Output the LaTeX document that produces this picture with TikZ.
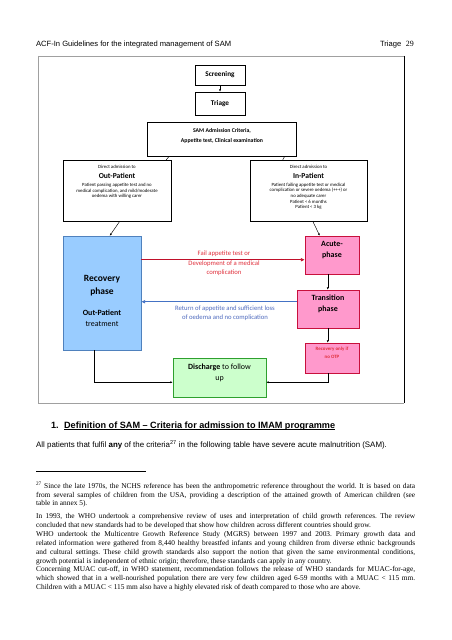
\documentclass[tikz,border=0pt]{standalone}
\usepackage{fontspec}
\setmainfont{Liberation Sans}
\newfontfamily\tnr{Liberation Serif}
\newfontfamily\calfnt{Carlito}
\usetikzlibrary{arrows.meta,calc}
\def\PX{1.3164pt}
\definecolor{pinkfill}{HTML}{FF99CC}
\definecolor{pinkdraw}{HTML}{C8103C}
\definecolor{bluefill}{HTML}{99CCFF}
\definecolor{bluedraw}{HTML}{4F81BD}
\definecolor{greenfill}{HTML}{CCFFCC}
\definecolor{greendraw}{HTML}{2EA02E}
\definecolor{redarrow}{HTML}{C0102A}
\definecolor{redtext}{HTML}{E0303C}
\definecolor{bluearrow}{HTML}{4472C4}
\definecolor{bluetext}{HTML}{4F6BBF}
\definecolor{framegray}{HTML}{A0A0A0}
\begin{document}
\begin{tikzpicture}[x=1.3164pt,y=-1.3164pt,
  bx/.style={draw=black, line width=0.6pt, inner sep=0pt},
  pinkbox/.style={draw=pinkdraw, fill=pinkfill, line width=0.7pt, inner sep=0pt},
  arr/.style={-{Latex[length=3pt,width=2.6pt]}, line width=0.6pt},
  bigarr/.style={-{Latex[length=5pt,width=5pt]}, line width=1.6pt},
  txt/.style={inner sep=0pt, align=center}
]
\useasboundingbox (0,0) rectangle (452,640);
\fill[white] (0,0) rectangle (452,640);

% page header
\node[anchor=base west, inner sep=0pt, font=\fontsize{10}{12}\selectfont] (hdr) at (36,46.5) {ACF-In Guidelines for the integrated management of SAM};
\node[anchor=base east, inner sep=0pt, font=\fontsize{10}{12}\selectfont] (pg) at (414,46.5) {Triage\hspace{6pt}{\tnr\fontsize{10.5}{12}\selectfont 29}};

% frame
\draw[framegray, line width=0.6pt] (38,56) -- (38,403) -- (404,403);
\draw[framegray, line width=0.6pt] (38,56) -- (404,56);
\draw[black, line width=0.6pt] (404,56) -- (404,403);

% boxes
\node[bx, minimum width=50*\PX, minimum height=20*\PX] (scr) at (220,75) {};
\node[txt, font=\calfnt\bfseries\fontsize{9.5}{11}\selectfont] (scrt) at (220,75) {Screening};
\node[bx, minimum width=50*\PX, minimum height=23*\PX] (tri) at (220,103.5) {};
\node[txt, font=\calfnt\bfseries\fontsize{9.5}{11}\selectfont] (trit) at (220,103.5) {Triage};
\node[bx, minimum width=149*\PX, minimum height=34*\PX] (sam) at (222,139) {};
\node[txt, font=\calfnt\bfseries\fontsize{7.6}{13}\selectfont] (samt) at (222,135.5) {SAM Admission Criteria,\\Appetite test, Clinical examination};

\node[bx, minimum width=108*\PX, minimum height=61*\PX] (out) at (117,190.5) {};
\node[txt, anchor=base, font=\calfnt\fontsize{6.3}{7}\selectfont] (outa) at (117,168.5) {Direct admission to};
\node[txt, anchor=base, font=\calfnt\bfseries\fontsize{10}{11}\selectfont] (outb) at (117,178.8) {Out-Patient};
\node[txt, font=\calfnt\fontsize{6.3}{7.4}\selectfont] (outc) at (117,190.8) {Patient passing appetite test and no\\medical complication, and mild/moderate\\oedema with willing carer};

\node[bx, minimum width=117*\PX, minimum height=61*\PX] (inp) at (308.5,190.5) {};
\node[txt, anchor=base, font=\calfnt\fontsize{6.3}{7}\selectfont] (ina) at (308.5,168.5) {Direct admission to};
\node[txt, anchor=base, font=\calfnt\bfseries\fontsize{10}{11}\selectfont] (inb) at (308.5,178.8) {In-Patient};
\node[txt, font=\calfnt\fontsize{6.3}{7.4}\selectfont] (inc) at (308.5,196.3) {Patient failing appetite test or medical\\complication or severe oedema (+++) or\\no adequate carer\\Patient < 6 months\\Patient < 3 kg};

\node[draw=bluedraw, fill=bluefill, line width=0.7pt, inner sep=0pt, minimum width=78*\PX, minimum height=114*\PX] (rec) at (102,293) {};
\node[txt, font=\calfnt\bfseries\fontsize{12.5}{17}\selectfont] (reca) at (102,286) {Recovery\\phase};
\node[txt, font=\calfnt\fontsize{10.5}{14.5}\selectfont] (recb) at (102,318.5) {\textbf{Out-Patient}\\treatment};

\node[pinkbox, minimum width=54*\PX, minimum height=38*\PX] (acu) at (332,255) {};
\node[txt, font=\calfnt\bfseries\fontsize{10.5}{14.5}\selectfont] (acut) at (332,250.5) {Acute-\\phase};
\node[pinkbox, minimum width=62*\PX, minimum height=38*\PX] (tra) at (328,309) {};
\node[txt, font=\calfnt\bfseries\fontsize{10.5}{14.5}\selectfont] (trat) at (328,304) {Transition\\phase};
\node[pinkbox, minimum width=54*\PX, minimum height=30*\PX] (rco) at (332,358) {};
\node[txt, font=\calfnt\bfseries\fontsize{6.5}{10.5}\selectfont, text=redtext] (rcot) at (332,353) {Recovery only if\\no OTP};

\node[draw=greendraw, fill=greenfill, line width=0.7pt, inner sep=0pt, minimum width=93*\PX, minimum height=39*\PX] (dis) at (219.5,377.5) {};
\node[txt, font=\calfnt\fontsize{10.5}{14.5}\selectfont] (dist) at (219.5,372.5) {\textbf{Discharge} to follow\\up};

% connectors
\draw[arr] (scr.south) -- (tri.north);
\draw[line width=0.6pt] ($(sam.south west)+(22,0)$) -- ($(out.north east)+(-5,0)$);
\draw[line width=0.6pt] ($(sam.south east)+(-12,0)$) -- ($(inp.north west)+(33,0)$);
\draw[arr] ($(out.south west)+(57,0)$) -- ($(rec.north west)+(47,0)$);
\draw[arr] ($(inp.south west)+(63,0)$) -- ($(acu.north west)+(15,0)$);
\draw[arr] ($(acu.south west)+(23,0)$) -- ($(tra.north west)+(31,0)$);
\draw[arr] ($(tra.south west)+(31,0)$) -- ($(rco.north west)+(23,0)$);

\draw[bigarr, redarrow] ($(rec.north east)+(0,24)$) -- ($(acu.north west)+(0,24)$);
\node[txt, anchor=base, font=\calfnt\fontsize{8.8}{11.8}\selectfont, text=redtext] (redA) at (224,255.5) {Fail appetite test or};
\node[txt, anchor=north, font=\calfnt\fontsize{8.8}{11.8}\selectfont, text=redtext] (redB) at (224,260.5) {Development of a medical\\complication};

\draw[bigarr, bluearrow] ($(tra.north west)+(0,12)$) -- ($(rec.north east)+(0,66)$);
\node[txt, anchor=north, font=\calfnt\fontsize{8.8}{11.8}\selectfont, text=bluetext] (bluA) at (225,306) {Return of appetite and sufficient loss\\of oedema and no complication};

\coordinate (c1) at ($(rec.south west)+(31,32)$);
\draw[arr] ($(rec.south west)+(31,0)$) -- (c1) -- (c1 -| dis.west);
\coordinate (c2) at ($(rco.south west)+(23,9)$);
\draw[arr] ($(rco.south west)+(23,0)$) -- (c2) -- (c2 -| dis.east);

% heading and body text
\node[anchor=base west, inner sep=0pt, font=\bfseries\fontsize{12}{14}\selectfont] (num) at (51,428) {1.};
\node[anchor=base west, inner sep=0pt, font=\bfseries\fontsize{12}{14}\selectfont] (ttl) at (64,428) {Definition of SAM – Criteria for admission to IMAM programme};
\draw[line width=0.8pt] ([yshift=-1.6pt]ttl.base west) -- ([yshift=-1.6pt]ttl.base east);
\node[anchor=base west, inner sep=0pt, font=\fontsize{10.4}{12}\selectfont] (body) at (36,447.5) {All patients that fulfil \textbf{any} of the criteria\textsuperscript{27} in the following table have severe acute malnutrition (SAM).};

% footnote
\draw[line width=0.6pt] (36,471) -- (146,471);
\node[anchor=north west, inner sep=0pt, text width=499pt, align=justify, font=\tnr\fontsize{9.7}{11.7}\selectfont] (fn) at (36,481.8) {\parindent=0pt\parskip=0pt\frenchspacing
\strut\textsuperscript{27} Since the late 1970s, the NCHS reference has been the anthropometric reference throughout the world. It is based on data\linebreak
from several samples of children from the USA, providing a description of the attained growth of American children (see\linebreak
table in annex 5).\par\vspace{5pt}
In 1993, the WHO undertook a comprehensive review of uses and interpretation of child growth references. The review\linebreak
concluded that new standards had to be developed that show how children across different countries should grow.\par
WHO undertook the Multicentre Growth Reference Study (MGRS) between 1997 and 2003. Primary growth data and\linebreak
related information were gathered from 8,440 healthy breastfed infants and young children from diverse ethnic backgrounds\linebreak
and cultural settings. These child growth standards also support the notion that given the same environmental conditions,\linebreak
growth potential is independent of ethnic origin; therefore, these standards can apply in any country.\par
Concerning MUAC cut-off, in WHO statement, recommendation follows the release of WHO standards for MUAC-for-age,\linebreak
which showed that in a well-nourished population there are very few children aged 6-59 months with a MUAC < 115 mm.\linebreak
Children with a MUAC < 115 mm also have a highly elevated risk of death compared to those who are above.\par};
\end{tikzpicture}
\end{document}
